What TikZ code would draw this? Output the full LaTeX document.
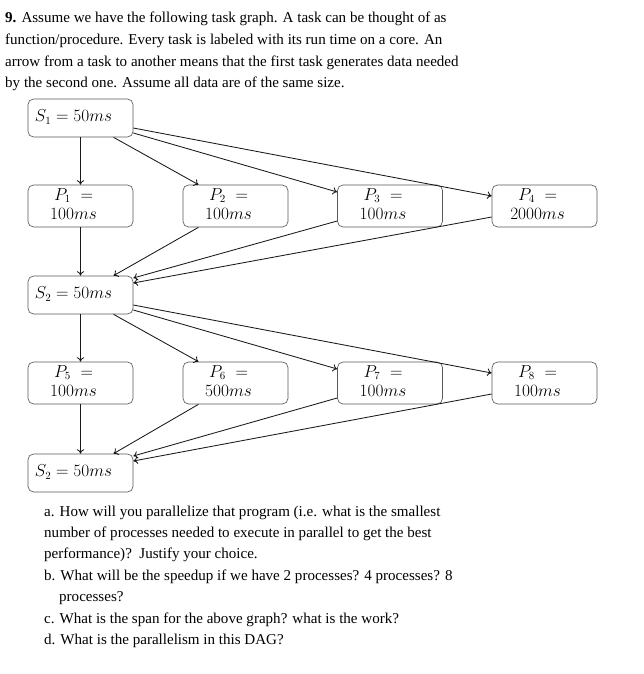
\documentclass[tikz,border=0pt]{standalone}
\usepackage{fontspec}
\newfontfamily\tnr{Liberation Serif}
\usetikzlibrary{arrows.meta}
\newcommand\tasklbl[1]{\begin{tabular}{@{}c@{\hspace{14pt}}}#1\end{tabular}}
\begin{document}
\begin{tikzpicture}[x=1pt,y=1pt,
  task/.style={draw=black!65, line width=0.65pt, rounded corners=5.5pt, minimum width=105pt, inner sep=0pt, font=\fontsize{16}{19.5}\selectfont},
  sbox/.style={task, minimum height=38pt},
  pbox/.style={task, minimum height=42pt},
  link/.style={-{To[length=4.5pt,width=7.5pt]}, line width=0.85pt, draw=black!90},
  txt/.style={anchor=base west, inner sep=0pt, font=\tnr\fontsize{15.05}{18}\selectfont}]
\useasboundingbox (0,0) rectangle (643,-674);
% header
\node[txt] (h1) at (5,-23) {\textbf{9.} Assume we have the following task graph. A task can be thought of as};
\node[txt] (h2) at (5,-45) {function/procedure. Every task is labeled with its run time on a core. An};
\node[txt] (h3) at (5,-67) {arrow from a task to another means that the first task generates data needed};
\node[txt] (h4) at (5,-88) {by the second one. Assume all data are of the same size.};
% nodes
\node[sbox] (S1) at (80.5,-118) {\tasklbl{$S_1 = 50ms$}};
\node[pbox] (P1) at (80.5,-206) {\tasklbl{$P_1\ =$\\$100ms$}};
\node[pbox] (P2) at (235.5,-206) {\tasklbl{$P_2\ =$\\$100ms$}};
\node[pbox] (P3) at (390,-206) {\tasklbl{$P_3\ =$\\$100ms$}};
\node[pbox] (P4) at (544.5,-206) {\tasklbl{$P_4\ =$\\$2000ms$}};
\node[sbox] (S2) at (80.5,-295) {\tasklbl{$S_2 = 50ms$}};
\node[pbox] (P5) at (80.5,-383) {\tasklbl{$P_5\ =$\\$100ms$}};
\node[pbox] (P6) at (235.5,-383) {\tasklbl{$P_6\ =$\\$500ms$}};
\node[pbox] (P7) at (390,-383) {\tasklbl{$P_7\ =$\\$100ms$}};
\node[pbox] (P8) at (544.5,-383) {\tasklbl{$P_8\ =$\\$100ms$}};
\node[sbox] (S3) at (80.5,-473) {\tasklbl{$S_2 = 50ms$}};
% edges first stage
\draw[link] (S1.south) -- (P1.north);
\draw[link] ([xshift=33pt]S1.south) -- ([xshift=-37pt]P2.north);
\draw[link] ([yshift=-15pt]S1.east) -- ([yshift=14pt]P3.west);
\draw[link] ([yshift=-10pt]S1.east) -- ([yshift=10pt]P4.west);
\draw[link] (P1.south) -- (S2.north);
\draw[link] ([xshift=-37pt]P2.south) -- ([xshift=33pt]S2.north);
\draw[link] ([yshift=-15pt]P3.west) -- ([yshift=17pt]S2.east);
\draw[link] ([yshift=-11pt]P4.west) -- ([yshift=12pt]S2.east);
% edges second stage
\draw[link] (S2.south) -- (P5.north);
\draw[link] ([xshift=33pt]S2.south) -- ([xshift=-37pt]P6.north);
\draw[link] ([yshift=-15pt]S2.east) -- ([yshift=14pt]P7.west);
\draw[link] ([yshift=-10pt]S2.east) -- ([yshift=10pt]P8.west);
\draw[link] (P5.south) -- (S3.north);
\draw[link] ([xshift=-37pt]P6.south) -- ([xshift=33pt]S3.north);
\draw[link] ([yshift=-15pt]P7.west) -- ([yshift=17pt]S3.east);
\draw[link] ([yshift=-11pt]P8.west) -- ([yshift=12pt]S3.east);
% questions
\node[txt] (q1) at (44,-516) {a. How will you parallelize that program (i.e. what is the smallest};
\node[txt] (q2) at (44,-537) {number of processes needed to execute in parallel to get the best};
\node[txt] (q3) at (44,-558) {performance)?\ \ Justify your choice.};
\node[txt] (q4) at (44,-580) {b. What will be the speedup if we have 2 processes? 4 processes? 8};
\node[txt] (q5) at (59,-601) {processes?};
\node[txt] (q6) at (44,-623) {c. What is the span for the above graph? what is the work?};
\node[txt] (q7) at (44,-644) {d. What is the parallelism in this DAG?};
\end{tikzpicture}
\end{document}
